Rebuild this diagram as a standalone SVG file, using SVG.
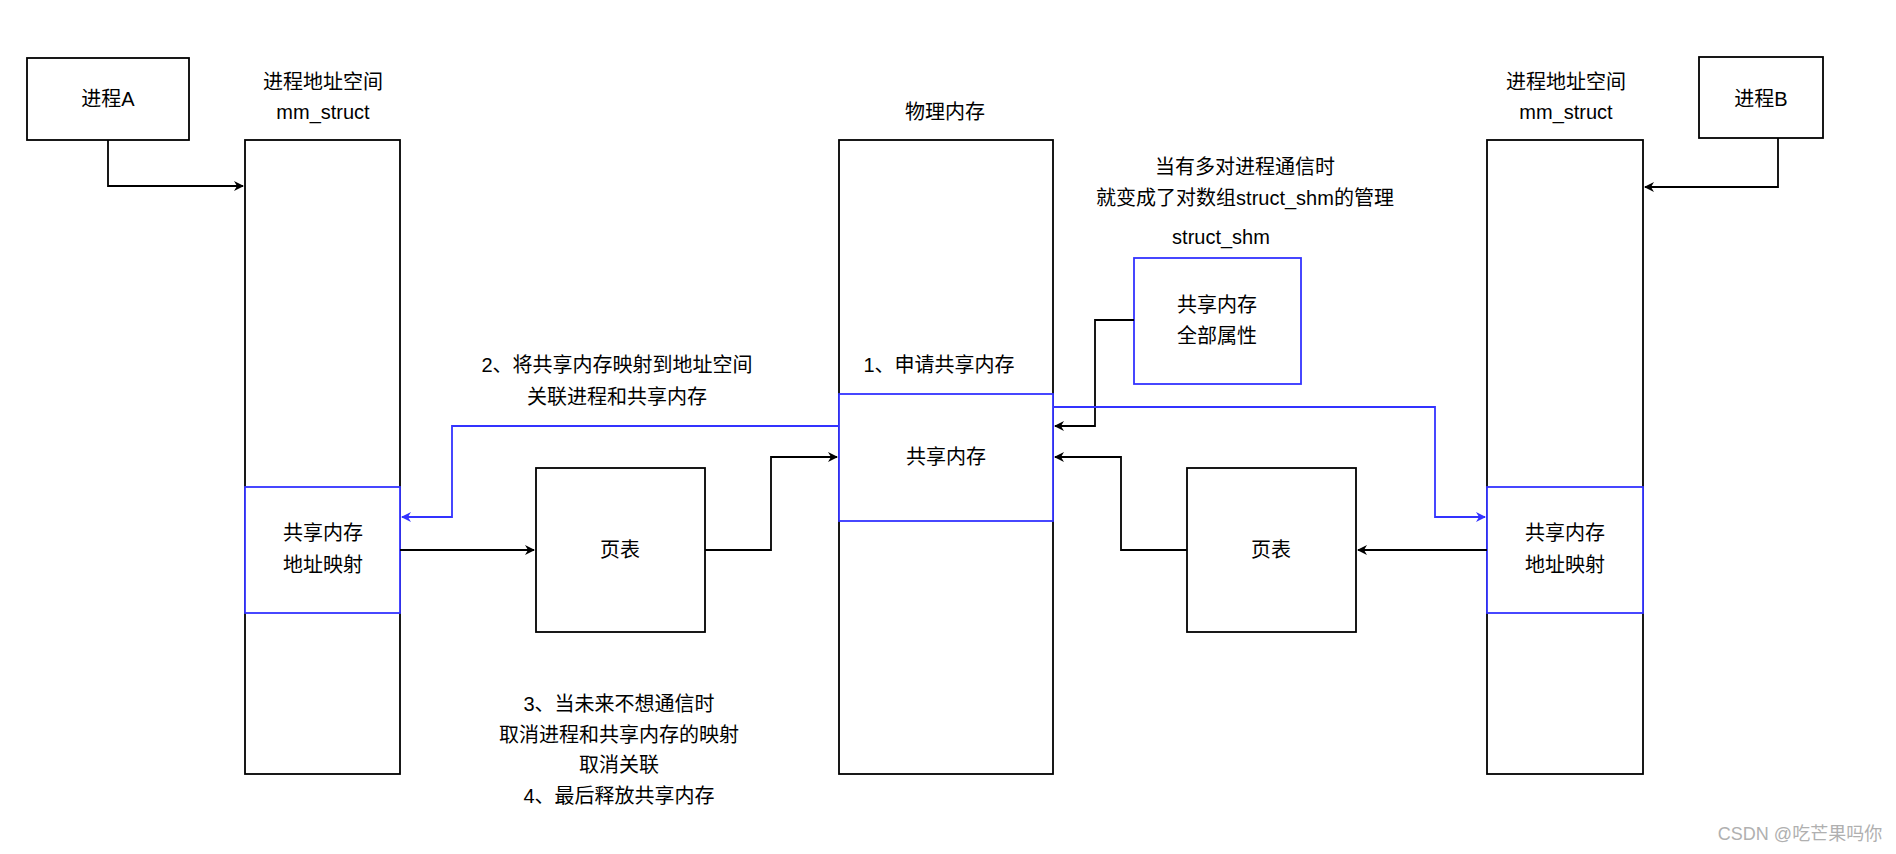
<svg xmlns="http://www.w3.org/2000/svg" width="1896" height="854" viewBox="0 0 1896 854">
<style>
text{font-family:"Liberation Sans","Noto Sans CJK SC",sans-serif;font-size:20px;fill:#000;text-anchor:middle;dominant-baseline:central}
.box{fill:#fff;stroke:#000;stroke-width:1.8}
.blue{fill:#fff;stroke:#3333ff;stroke-width:1.8}
.c{fill:none;stroke:#000;stroke-width:1.8}
.cb{fill:none;stroke:#3333ff;stroke-width:1.8}
</style>
<defs>
<marker id="ak" viewBox="0 0 10 10" refX="9" refY="5" markerWidth="10" markerHeight="10" markerUnits="userSpaceOnUse" orient="auto"><path d="M0,0 L10,5 L0,10 L3,5 Z" fill="#000"/></marker>
<marker id="ab" viewBox="0 0 10 10" refX="9" refY="5" markerWidth="10" markerHeight="10" markerUnits="userSpaceOnUse" orient="auto"><path d="M0,0 L10,5 L0,10 L3,5 Z" fill="#3333ff"/></marker>
</defs>
<rect width="1896" height="854" fill="#fff"/>
<g id="procA"><rect class="box" x="27" y="58" width="162" height="82"/><text x="108" y="99">进程A</text></g>
<g id="colA"><text x="323" y="82">进程地址空间</text><text x="323" y="112">mm_struct</text><rect class="box" x="245" y="140" width="155" height="634"/><rect class="blue" x="245" y="487" width="155" height="126"/><text x="323" y="533">共享内存</text><text x="323" y="565">地址映射</text></g>
<g id="ptA"><rect class="box" x="536" y="468" width="169" height="164"/><text x="620" y="550">页表</text></g>
<g id="phys"><text x="945" y="112">物理内存</text><rect class="box" x="839" y="140" width="214" height="634"/><rect class="blue" x="839" y="394" width="214" height="127"/><text x="946" y="457">共享内存</text><text x="939" y="365">1、申请共享内存</text></g>
<g id="ptB"><rect class="box" x="1187" y="468" width="169" height="164"/><text x="1271" y="550">页表</text></g>
<g id="colB"><text x="1566" y="82">进程地址空间</text><text x="1566" y="112">mm_struct</text><rect class="box" x="1487" y="140" width="156" height="634"/><rect class="blue" x="1487" y="487" width="156" height="126"/><text x="1565" y="533">共享内存</text><text x="1565" y="565">地址映射</text></g>
<g id="procB"><rect class="box" x="1699" y="57" width="124" height="81"/><text x="1761" y="99">进程B</text></g>
<g id="shm"><text x="1221" y="237">struct_shm</text><rect class="blue" x="1134" y="258" width="167" height="126"/><text x="1217" y="305">共享内存</text><text x="1217" y="336">全部属性</text></g>
<g id="labels">
<text x="1245" y="167">当有多对进程通信时</text><text x="1245" y="198">就变成了对数组struct_shm的管理</text>
<text x="617" y="365">2、将共享内存映射到地址空间</text><text x="617" y="397">关联进程和共享内存</text>
<text x="619" y="704">3、当未来不想通信时</text><text x="619" y="735">取消进程和共享内存的映射</text><text x="619" y="765">取消关联</text><text x="619" y="796">4、最后释放共享内存</text>
<text x="1800" y="834" style="fill:#b0b0b0;font-size:18px">CSDN @吃芒果吗你</text>
</g>
<g id="connectors">
<path class="c" d="M108,140 V186 H243" marker-end="url(#ak)"/>
<path class="c" d="M1778,138 V187 H1645" marker-end="url(#ak)"/>
<path class="c" d="M400,550 H534" marker-end="url(#ak)"/>
<path class="c" d="M705,550 H771 V457 H837" marker-end="url(#ak)"/>
<path class="c" d="M1487,550 H1358" marker-end="url(#ak)"/>
<path class="c" d="M1187,550 H1121 V457 H1055" marker-end="url(#ak)"/>
<path class="c" d="M1134,320 H1095 V426 H1055" marker-end="url(#ak)"/>
<path class="cb" d="M839,426 H452 V517 H402" marker-end="url(#ab)"/>
<path class="cb" d="M1053,407 H1435 V517 H1485" marker-end="url(#ab)"/>
</g>
</svg>
